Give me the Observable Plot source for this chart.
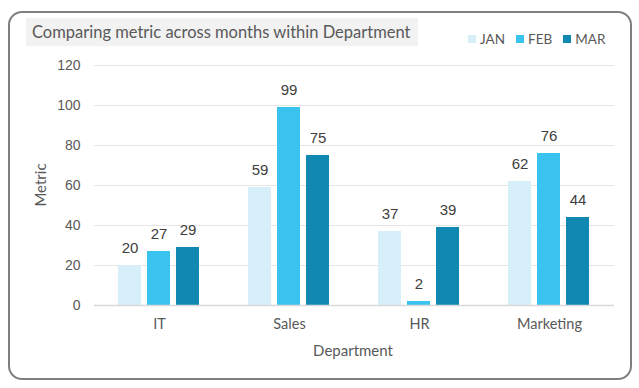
<!DOCTYPE html>
<html>
<head>
<meta charset="utf-8">
<script src="https://cdn.jsdelivr.net/npm/d3@7"></script>
<script src="https://cdn.jsdelivr.net/npm/@observablehq/plot@0.6"></script>
<style>
  html, body { margin: 0; padding: 0; background: #fff; }
  #wrap { position: relative; width: 639px; height: 388px; overflow: hidden; }
  #frame { position: absolute; left: 8px; top: 11px; width: 620px; height: 365px; border: 2px solid #7f7f7f; border-radius: 14px; }
  #title { position: absolute; left: 26px; top: 18px; height: 28px; line-height: 28px; padding: 0 8px 0 6px; background: #f2f2f2; color: #595959; font-family: Lato, "Open Sans", sans-serif; font-size: 16.5px; white-space: nowrap; }
  #legend { position: absolute; left: 468px; top: 31px; font-family: Lato, sans-serif; font-size: 13.5px; color: #595959; display: flex; align-items: center; }
  #legend .item { display: flex; align-items: center; margin-right: 11px; }
  #legend .sw { width: 8px; height: 8px; margin-right: 4px; }
  #chart { position: absolute; left: 0; top: 0; }
  #ylabel { position: absolute; left: 40px; top: 185px; transform: translate(-50%, -50%) rotate(-90deg); font-family: Lato, sans-serif; font-size: 15px; color: #595959; white-space: nowrap; }
  #xlabel { position: absolute; left: 353px; top: 350px; transform: translate(-50%, -50%); font-family: Lato, sans-serif; font-size: 15px; color: #595959; white-space: nowrap; }
</style>
</head>
<body>
<div id="wrap">
  <div id="chart"></div>
  <div id="frame"></div>
  <div id="title">Comparing metric across months within Department</div>
  <div id="legend"></div>
  <div id="ylabel">Metric</div>
  <div id="xlabel">Department</div>
</div>
<script>
const departments = ["IT", "Sales", "HR", "Marketing"];
const months = ["JAN", "FEB", "MAR"];
const jan = [20, 59, 37, 62];
const feb = [27, 99, 2, 76];
const mar = [29, 75, 39, 44];
const colors = ["#d6eff9", "#3bc3ef", "#1088b2"];
const yTicks = [0, 20, 40, 60, 80, 100, 120];

const series = [jan, feb, mar];
const data = [];
departments.forEach((d, i) => {
  months.forEach((m, j) => data.push({dept: d, month: m, value: series[j][i]}));
});

const legend = document.getElementById("legend");
months.forEach((m, j) => {
  const it = document.createElement("div");
  it.className = "item";
  it.innerHTML = `<span class="sw" style="background:${colors[j]}"></span><span>${m}</span>`;
  legend.appendChild(it);
});

const chart = Plot.plot({
  width: 639,
  height: 388,
  marginLeft: 94,
  marginRight: 25,
  marginTop: 65,
  marginBottom: 83,
  style: {fontFamily: "'Liberation Sans', Arial, sans-serif", fontSize: "14px", color: "#595959", background: "transparent"},
  fx: {domain: departments, paddingInner: 0, paddingOuter: 0},
  x: {domain: months, paddingInner: 0.2, paddingOuter: 0.84, axis: null},
  y: {domain: [0, 120]},
  color: {domain: months, range: colors},
  marks: [
    Plot.gridY(yTicks, {stroke: "#e6e6e6", strokeOpacity: 1}),
    Plot.axisY(yTicks, {tickSize: 0, tickPadding: 14, fill: "#595959", fontSize: 14, label: null}),
    Plot.barY(data, {fx: "dept", x: "month", y: "value", fill: "month"}),
    Plot.ruleY([0], {stroke: "#d9d9d9", strokeWidth: 1.5}),
    Plot.text(data, {fx: "dept", x: "month", y: "value", text: d => String(d.value), dy: -17, fill: "#404040", fontSize: 15}),
    Plot.axisFx({anchor: "bottom", tickSize: 0, tickPadding: 13, fill: "#595959", fontSize: 14.5, fontFamily: "Lato, sans-serif", label: null})
  ]
});
document.getElementById("chart").appendChild(chart);
</script>
</body>
</html>
